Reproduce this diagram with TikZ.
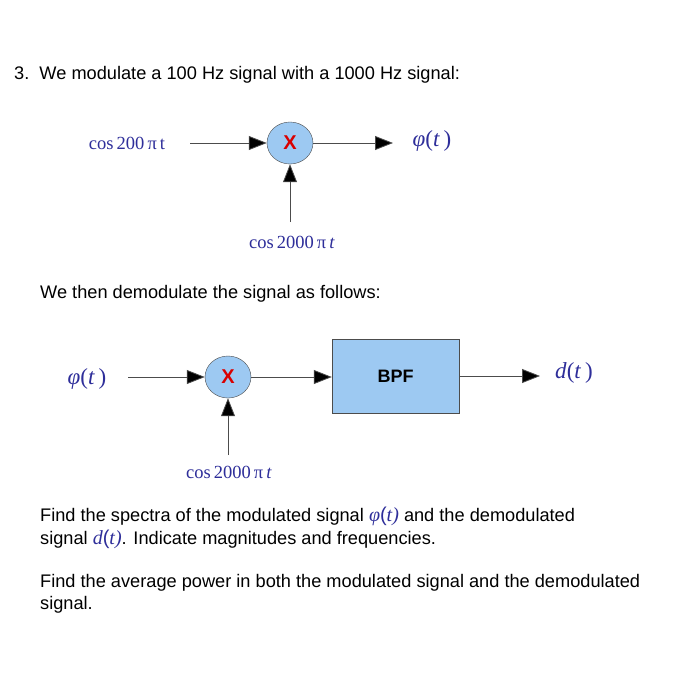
\documentclass[tikz,border=0pt]{standalone}
\usepackage{fontspec}
\setmainfont{Liberation Sans}
\newfontfamily\serifm{Liberation Serif}
\usetikzlibrary{arrows.meta,shapes.geometric}
\definecolor{lbl}{HTML}{2E2E9A}
\definecolor{fillb}{HTML}{9DC9F2}
\newcommand{\ph}{{\serifm\itshape φ}}
\newcommand{\pif}{{\serifm π}}
\begin{document}
\begin{tikzpicture}[x=1pt,y=-1pt,
  body/.style={anchor=base west,font=\fontsize{18.2}{21}\selectfont,inner sep=0},
  mlab/.style={text=lbl,font=\serifm\fontsize{18.5}{21}\selectfont,inner sep=0},
  plab/.style={text=lbl,font=\serifm\fontsize{23}{26}\selectfont,inner sep=0},
  mult/.style={ellipse,draw=black!70,fill=fillb,minimum width=46,minimum height=42,inner sep=0,font=\bfseries\fontsize{20}{22}\selectfont,text=red!85!black},
  sig/.style={draw=black!70,line width=0.8,-{Triangle[length=18,width=14,fill=black]}}]
\useasboundingbox[fill=white] (0,0) rectangle (700,693);
\node[body] (t1) at (14,79) {3.\ \ We modulate a 100 Hz signal with a 1000 Hz signal:};
\node[mlab] (a1) at (127,143) {cos\,200\,\pif\,t};
\coordinate (a1s) at (190,143);
\node[mult] (m1) at (290,143) {X};
\coordinate (o1) at (393,143);
\node[plab] (p1) at (432,141) {\ph(\textit{t}\,)};
\coordinate (c1s) at (290,222);
\node[mlab] (c1) at (292,242) {cos\,2000\,\pif\,\textit{t}};
\draw[sig] (a1s) -- (m1);
\draw[sig] (m1) -- (o1);
\draw[sig] (c1s) -- (m1);
\node[body] (t2) at (40,298) {We then demodulate the signal as follows:};
\node[plab] (p2) at (87,379) {\ph(\textit{t}\,)};
\coordinate (p2s) at (128,377);
\node[mult] (m2) at (228,377) {X};
\node[draw=black!70,fill=fillb,minimum width=127,minimum height=74,inner sep=0,font=\bfseries\fontsize{18}{21}\selectfont] (bpf) at (395.5,376) {BPF};
\coordinate (o2) at (540,376);
\node[plab] (d2) at (574,373) {\textit{d}(\textit{t}\,)};
\coordinate (c2s) at (228,455);
\node[mlab] (c2) at (229,472) {cos\,2000\,\pif\,\textit{t}};
\draw[sig] (p2s) -- (m2);
\draw[sig] (m2) -- (bpf.west |- m2);
\draw[sig] (bpf.east |- o2) -- (o2);
\draw[sig] (c2s) -- (m2);
\node[body] (t3) at (40,521) {Find the spectra of the modulated signal \textcolor{lbl}{\fontsize{20}{20}\selectfont\ph(\serifm\itshape t)} and the demodulated};
\node[body] (t4) at (40,544) {signal \textcolor{lbl}{\fontsize{20}{20}\selectfont{\serifm\itshape d}(\serifm\itshape t)}. Indicate magnitudes and frequencies.};
\node[body] (t5) at (40,587) {Find the average power in both the modulated signal and the demodulated};
\node[body] (t6) at (40,609) {signal.};
\end{tikzpicture}
\end{document}
